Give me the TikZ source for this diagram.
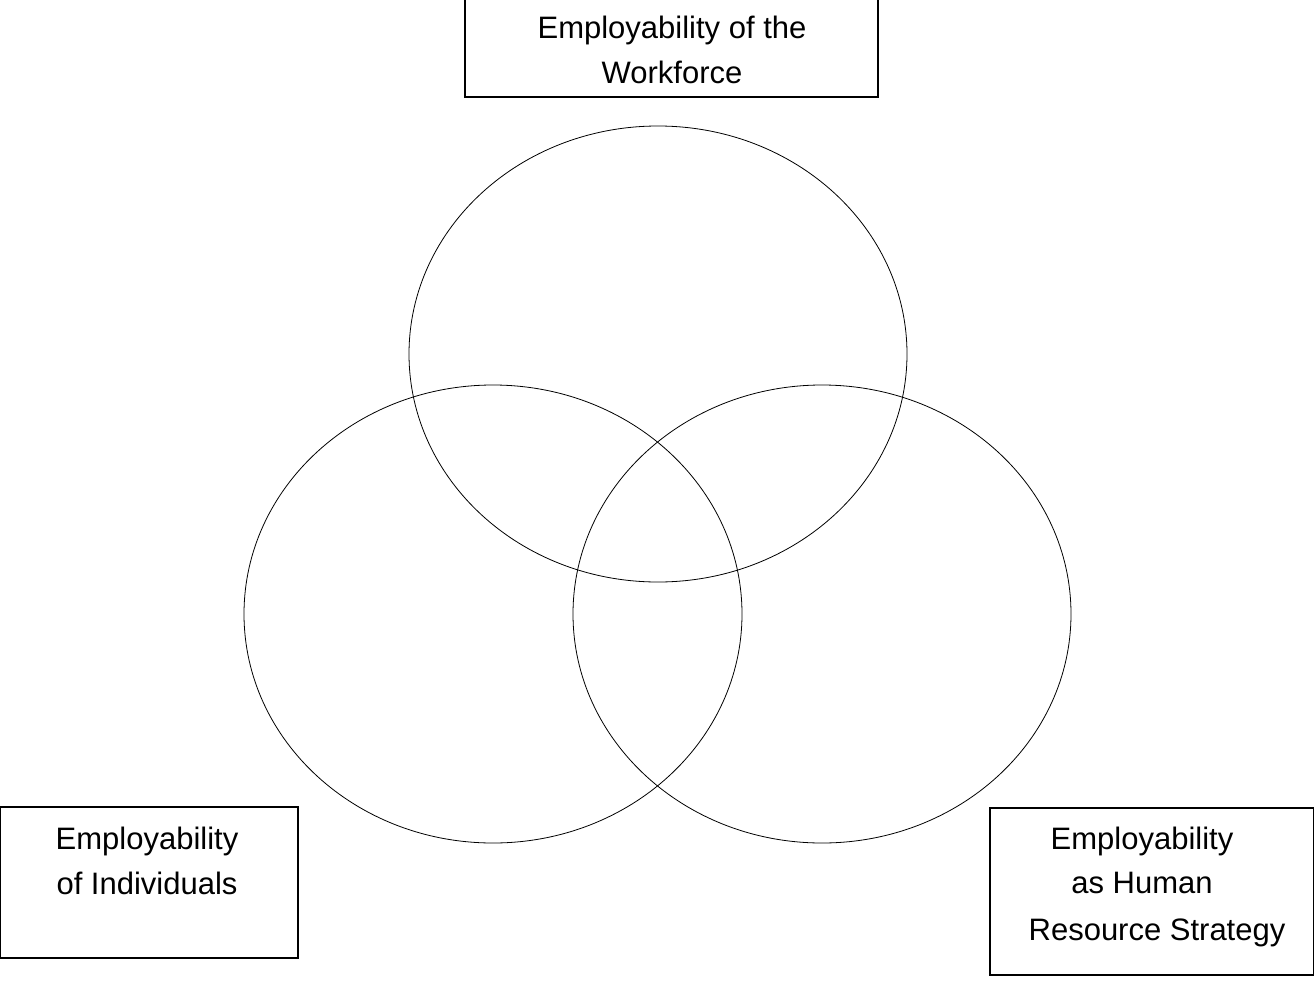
\documentclass[tikz,border=0pt]{standalone}
\usepackage{fontspec}
\setmainfont{Liberation Sans}
\begin{document}
\begin{tikzpicture}[x=1pt,y=-1pt,
  box/.style={draw,line width=1.5pt},
  circ/.style={draw,line width=0.8pt},
  lbl/.style={font=\fontsize{31}{37}\selectfont,inner sep=0pt,anchor=center}]
\useasboundingbox (0,0) rectangle (1314,993);
\draw[box] (465,-5) rectangle (878,97);
\draw[box] (0,807) rectangle (298,958);
\draw[box] (990,808) rectangle (1314,975);
\draw[circ] (658,354) ellipse [x radius=249, y radius=228];
\draw[circ] (493,614) ellipse [x radius=249, y radius=229];
\draw[circ] (822,614) ellipse [x radius=249, y radius=229];
\node[lbl] (t1) at (672,30) {Employability of the};
\node[lbl] (t2) at (672,72) {Workforce};
\node[lbl] (l1) at (147,841) {Employability};
\node[lbl] (l2) at (147,883) {of Individuals};
\node[lbl] (r1) at (1142,841) {Employability};
\node[lbl] (r2) at (1142,883) {as Human};
\node[lbl] (r3) at (1157,933) {Resource Strategy};
\end{tikzpicture}
\end{document}
